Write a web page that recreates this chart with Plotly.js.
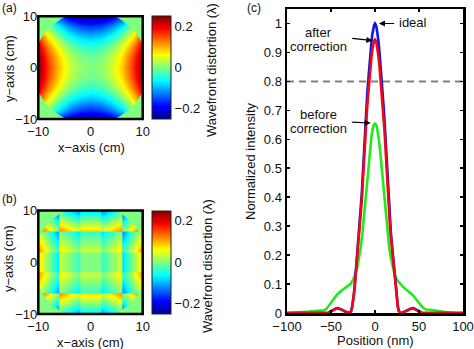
<!DOCTYPE html>
<html><head><meta charset="utf-8">
<script src="https://cdn.plot.ly/plotly-3.0.1.min.js"></script>
<style>html,body{margin:0;padding:0;background:#fff}#chart{width:474px;height:349px}</style>
</head><body><div id="chart"></div>
<script>
// ---------- Panel (a): wavefront distortion before correction ----------
const gridA = [-10,-8,-6,-4,-2,0,2,4,6,8,10];
const distortionA = [
 [0,-0.09,-0.16,-0.21,-0.24,-0.25,-0.24,-0.21,-0.16,-0.09,0],
 [0.09,0,-0.07,-0.12,-0.15,-0.16,-0.15,-0.12,-0.07,0,0.09],
 [0.16,0.07,0,-0.05,-0.08,-0.09,-0.08,-0.05,0,0.07,0.16],
 [0.21,0.12,0.05,0,-0.03,-0.04,-0.03,0,0.05,0.12,0.21],
 [0.24,0.15,0.08,0.03,0,-0.01,0,0.03,0.08,0.15,0.24],
 [0.25,0.16,0.09,0.04,0.01,0,0.01,0.04,0.09,0.16,0.25],
 [0.24,0.15,0.08,0.03,0,-0.01,0,0.03,0.08,0.15,0.24],
 [0.21,0.12,0.05,0,-0.03,-0.04,-0.03,0,0.05,0.12,0.21],
 [0.16,0.07,0,-0.05,-0.08,-0.09,-0.08,-0.05,0,0.07,0.16],
 [0.09,0,-0.07,-0.12,-0.15,-0.16,-0.15,-0.12,-0.07,0,0.09],
 [0,-0.09,-0.16,-0.21,-0.24,-0.25,-0.24,-0.21,-0.16,-0.09,0]
];
// ---------- Panel (b): residual after segmented correction ----------
const gridB = [-10,-6.05,-5.95,-2.05,-1.95,1.95,2.05,5.95,6.05,10];
const distortionB = [
 [0,-0.16,-0.04,-0.12,-0.08,-0.08,-0.12,-0.04,-0.16,0],
 [0.16,0,0.12,0.04,0.08,0.08,0.04,0.12,0,0.16],
 [0.04,-0.12,0,-0.08,-0.04,-0.04,-0.08,0,-0.12,0.04],
 [0.12,-0.04,0.08,0,0.04,0.04,0,0.08,-0.04,0.12],
 [0.08,-0.08,0.04,-0.04,0,0,-0.04,0.04,-0.08,0.08],
 [0.08,-0.08,0.04,-0.04,0,0,-0.04,0.04,-0.08,0.08],
 [0.12,-0.04,0.08,0,0.04,0.04,0,0.08,-0.04,0.12],
 [0.04,-0.12,0,-0.08,-0.04,-0.04,-0.08,0,-0.12,0.04],
 [0.16,0,0.12,0.04,0.08,0.08,0.04,0.12,0,0.16],
 [0,-0.16,-0.04,-0.12,-0.08,-0.08,-0.12,-0.04,-0.16,0]
];
const spatialTicks = [-10,0,10];
const cbTickVals = [-0.2,0,0.2];
const cbTickText = ['\u22120.2','0','0.2'];

// ---------- Panel (c): intensity profiles ----------
const positionAfter = [-100,-70,-56,-53,-50,-47,-44,-42,-40,-37,-34,-31,-29,-28,-27,-26,-25,-24,-23,-22,-21,-20,-19,-18,-17,-16,-15,-14,-13,-12,-11,-10,-9,-8,-7,-6,-5,-4,-3,-2,-1,0,
 1,2,3,4,5,6,7,8,9,10,11,12,13,14,15,16,17,18,19,20,21,22,23,24,25,26,27,28,29,31,34,37,40,42,44,47,50,53,56,70,100];
const idealIntensity = [0,0,0,0.001,0.006,0.012,0.016,0.017,0.015,0.011,0.005,0.001,0,0.002,0.008,0.021,0.04,0.066,0.097,0.134,0.172,0.21,0.245,0.28,0.318,0.36,0.413,0.471,0.535,0.598,0.657,0.705,0.748,0.79,0.832,0.87,0.905,0.937,0.963,0.982,0.995,1.0,
 0.995,0.982,0.963,0.937,0.905,0.87,0.832,0.79,0.748,0.705,0.657,0.598,0.535,0.471,0.413,0.36,0.318,0.28,0.245,0.21,0.172,0.134,0.097,0.066,0.04,0.021,0.008,0.002,0,0.001,0.005,0.011,0.015,0.017,0.016,0.012,0.006,0.001,0,0,0];
const afterIntensity = [0,0,0,0.001,0.006,0.011,0.015,0.016,0.014,0.010,0.005,0.001,0,0.002,0.008,0.02,0.038,0.062,0.092,0.127,0.163,0.2,0.232,0.265,0.3,0.34,0.39,0.445,0.505,0.565,0.62,0.665,0.705,0.745,0.785,0.82,0.855,0.885,0.91,0.928,0.94,0.944,
 0.94,0.928,0.91,0.885,0.855,0.82,0.785,0.745,0.705,0.665,0.62,0.565,0.505,0.445,0.39,0.34,0.3,0.265,0.232,0.2,0.163,0.127,0.092,0.062,0.038,0.02,0.008,0.002,0,0.001,0.005,0.010,0.014,0.016,0.015,0.011,0.006,0.001,0,0,0];
const positionBefore = [-100,-90,-80,-75,-69,-63,-58,-55,-52,-49,-46,-43,-39,-36,-32,-28,-25,-22,-20,-18,-16,-14,-12,-10,-8,-6,-4,-2,0,
 2,4,6,8,10,12,14,16,18,20,22,25,28,32,36,39,43,46,49,52,55,58,63,69,75,80,90,100];
const beforeIntensity = [0,0.001,0.003,0.005,0.007,0.008,0.009,0.015,0.027,0.04,0.055,0.064,0.075,0.082,0.09,0.1,0.114,0.137,0.16,0.19,0.23,0.285,0.35,0.425,0.49,0.555,0.61,0.645,0.656,
 0.645,0.61,0.555,0.49,0.425,0.35,0.285,0.23,0.19,0.16,0.137,0.114,0.102,0.09,0.079,0.072,0.062,0.05,0.037,0.027,0.017,0.012,0.011,0.008,0.005,0.003,0.001,0];
const threshold = 0.8;
const posTicks = [-100,-50,0,50,100];

// ---------- helpers ----------
const W = 474, H = 349;
const px = v => v / W;
const py = v => 1 - v / H;
const FONT = 'Liberation Sans, Arial, Helvetica, sans-serif';
const TXT = '#111';
const jet = [[0,'rgb(0,0,143)'],[0.125,'rgb(0,0,255)'],[0.375,'rgb(0,255,255)'],[0.625,'rgb(255,255,0)'],[0.875,'rgb(255,0,0)'],[1,'rgb(128,0,0)']];
const ZERO_COLOR = 'rgb(128,255,128)';

function colorbar(topPx){
  return {x:px(151.7), xanchor:'left', xpad:0, y:py(topPx), yanchor:'top', ypad:0,
    len:103, lenmode:'pixels', thickness:19, thicknessmode:'pixels',
    outlinewidth:1, outlinecolor:'#222', tickvals:cbTickVals, ticktext:cbTickText,
    ticks:'', tickfont:{family:FONT,size:13,color:TXT}};
}

const traces = [
  {type:'heatmap', x:gridA, y:gridA, z:distortionA, xaxis:'x', yaxis:'y', zsmooth:'best',
   colorscale:jet, zmin:-0.25, zmax:0.25, colorbar:colorbar(16.2), hoverinfo:'skip'},
  {type:'heatmap', x:gridB, y:gridB, z:distortionB, xaxis:'x2', yaxis:'y2', zsmooth:'best',
   colorscale:jet, zmin:-0.25, zmax:0.25, colorbar:colorbar(210.5), hoverinfo:'skip'},
  {type:'scatter', mode:'lines', x:positionBefore, y:beforeIntensity, xaxis:'x3', yaxis:'y3',
   line:{color:'rgb(30,235,30)', width:2.6}, name:'before correction'},
  {type:'scatter', mode:'lines', x:positionAfter, y:idealIntensity, xaxis:'x3', yaxis:'y3',
   line:{color:'rgb(20,20,240)', width:2.6}, name:'ideal'},
  {type:'scatter', mode:'lines', x:positionAfter, y:afterIntensity, xaxis:'x3', yaxis:'y3',
   line:{color:'rgb(235,10,20)', width:2.6}, name:'after correction'}
];

// circular aperture mask (radius 11 cm) -> corners outside the aperture
const R = 11, E = 10, c = Math.sqrt(R*R - E*E);
const a1 = Math.atan2(E, c), a2 = Math.atan2(c, E), span = a1 - a2;
const h = 4/3*Math.tan(span/4)*R;
function corner(xr, yr, sx, sy){
  const p1 = [c, E], p2 = [E, c];
  const t1 = [Math.sin(a1), -Math.cos(a1)];
  const t2 = [Math.sin(a2), -Math.cos(a2)];
  const c1 = [p1[0] + h*t1[0], p1[1] + h*t1[1]];
  const c2 = [p2[0] - h*t2[0], p2[1] - h*t2[1]];
  const f = (p) => (sx*p[0]).toFixed(3) + ',' + (sy*p[1]).toFixed(3);
  const path = 'M' + f([11,11]) + ' L' + f([c,11]) + ' L' + f(p1) +
    ' C' + f(c1) + ' ' + f(c2) + ' ' + f(p2) + ' L' + f([11,c]) + ' Z';
  return {type:'path', xref:xr, yref:yr, path:path, fillcolor:ZERO_COLOR, line:{width:0}, layer:'above'};
}
function frame(xr, yr){
  return {type:'rect', xref:xr+' domain', yref:yr+' domain', x0:0, x1:1, y0:0, y1:1,
    line:{color:'black', width:2.5}, fillcolor:'rgba(0,0,0,0)', layer:'above'};
}
const shapes = [];
[['x','y'],['x2','y2']].forEach(([xr,yr]) => {
  [[1,1],[-1,1],[1,-1],[-1,-1]].forEach(([sx,sy]) => shapes.push(corner(xr,yr,sx,sy)));
  shapes.push(frame(xr,yr));
});
shapes.push({type:'line', xref:'x3 domain', yref:'y3', x0:0, x1:1, y0:threshold, y1:threshold,
  line:{color:'rgb(128,128,128)', width:2, dash:'7px,5px'}, layer:'below'});

function txt(text, x, y, opts){
  return Object.assign({text:text, xref:'paper', yref:'paper', x:px(x), y:py(y), showarrow:false,
    xanchor:'center', yanchor:'middle', font:{family:FONT, size:13, color:TXT}}, opts||{});
}
function arrow(xh, yh, ax, ay){
  return {text:'', xref:'x3', yref:'y3', x:xh, y:yh, ax:ax, ay:ay, showarrow:true,
    arrowhead:2, arrowsize:1, arrowwidth:1.2, arrowcolor:'black', standoff:0, startstandoff:0};
}
const annotations = [
  txt('(a)', 0, 8, {xanchor:'left', font:{family:FONT,size:12,color:TXT}}),
  txt('(b)', 0, 198.5, {xanchor:'left', font:{family:FONT,size:12,color:TXT}}),
  txt('(c)', 245, 8, {xanchor:'left', font:{family:FONT,size:12,color:TXT}}),
  txt('y\u2212axis (cm)', 9, 69, {textangle:-90}),
  txt('x\u2212axis (cm)', 91, 147),
  txt('y\u2212axis (cm)', 8, 259, {textangle:-90}),
  txt('x\u2212axis (cm)', 90, 342),
  txt('Wavefront distortion (\u03bb)', 211, 70, {textangle:-90}),
  txt('Wavefront distortion (\u03bb)', 207, 266, {textangle:-90}),
  txt('Normalized intensity', 250, 161, {textangle:-90}),
  txt('Position (nm)', 375, 340.5),
  txt('ideal', 397, 22.7, {xanchor:'left'}),
  txt('after', 318.3, 32.7),
  txt('correction', 318.5, 46.7),
  txt('before', 318.5, 114.3),
  txt('correction', 318.5, 128.3),
  arrow(4.5, 1.0, 16.7, 0),
  arrow(-2.95, 0.941, -21.7, -2.3),
  arrow(-4.9, 0.656, -20, -1)
];

const axBase = {showgrid:false, zeroline:false, showline:false, ticks:'', fixedrange:true,
  tickfont:{family:FONT, size:13, color:TXT}};
const layout = {
  width:W, height:H, margin:{l:0,r:0,t:0,b:0}, paper_bgcolor:'white', plot_bgcolor:'white',
  showlegend:false,
  xaxis: Object.assign({}, axBase, {domain:[px(38.3),px(142.7)], range:[-10,10], tickvals:spatialTicks, anchor:'y', ticklabelstandoff:3}),
  yaxis: Object.assign({}, axBase, {domain:[py(119),py(16.2)], range:[-10,10], tickvals:spatialTicks, anchor:'x'}),
  xaxis2: Object.assign({}, axBase, {domain:[px(38.3),px(142.7)], range:[-10,10], tickvals:spatialTicks, anchor:'y2', ticklabelstandoff:3}),
  yaxis2: Object.assign({}, axBase, {domain:[py(314),py(210.5)], range:[-10,10], tickvals:spatialTicks, anchor:'x2'}),
  xaxis3: Object.assign({}, axBase, {domain:[px(287),px(463)], range:[-100,100], tickvals:posTicks, anchor:'y3',
    showline:true, linewidth:2.5, linecolor:'black', mirror:'ticks', ticks:'inside', ticklen:3, tickwidth:1.5, tickcolor:'black'}),
  yaxis3: Object.assign({}, axBase, {domain:[py(313),py(9)], range:[0,1.05], tick0:0, dtick:0.1, anchor:'x3',
    showline:true, linewidth:2.5, linecolor:'black', mirror:'ticks', ticks:'inside', ticklen:3, tickwidth:1.5, tickcolor:'black'}),
  shapes: shapes,
  annotations: annotations
};
Plotly.newPlot('chart', traces, layout, {displayModeBar:false, staticPlot:true});
</script></body></html>
